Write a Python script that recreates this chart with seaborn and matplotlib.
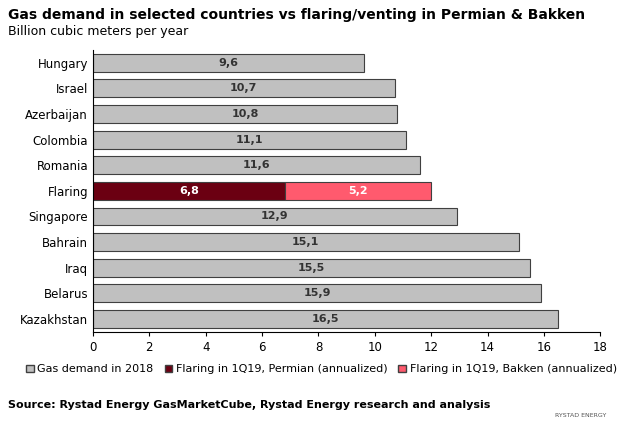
import matplotlib
matplotlib.use("Agg")
import matplotlib.pyplot as plt
import seaborn as sns
import pandas as pd
import numpy as np
from matplotlib.patches import Patch

categories = ["Hungary","Israel","Azerbaijan","Colombia","Romania","Flaring","Singapore","Bahrain","Iraq","Belarus","Kazakhstan"]
demand = [9.6,10.7,10.8,11.1,11.6,np.nan,12.9,15.1,15.5,15.9,16.5]
permian = 6.8
bakken = 5.2

plt.rcParams["font.family"] = "DejaVu Sans"
fig = plt.figure(figsize=(6.24,4.26), dpi=100)
ax = fig.add_axes([0.149,0.221,0.813,0.662])
df = pd.DataFrame({"cat":categories,"val":demand})
sns.barplot(data=df, x="val", y="cat", color="#c0c0c0", edgecolor="#404040", linewidth=0.8, width=0.7, ax=ax, saturation=1)
fi = categories.index("Flaring")
ax.barh(fi, permian, height=0.7, color="#6b0012", edgecolor="#404040", linewidth=0.8)
ax.barh(fi, bakken, left=permian, height=0.7, color="#ff5a6e", edgecolor="#404040", linewidth=0.8)
fmt = lambda v: f"{v:.1f}".replace(".",",")
for i,v in enumerate(demand):
    if not np.isnan(v):
        ax.text(v/2, i, fmt(v), ha="center", va="center", fontsize=8, fontweight="bold", color="#333333")
ax.text(permian/2, fi, fmt(permian), ha="center", va="center", fontsize=8, fontweight="bold", color="white")
ax.text(permian+bakken/2, fi, fmt(bakken), ha="center", va="center", fontsize=8, fontweight="bold", color="white")
ax.set_xlim(0,18)
ax.set_ylim(len(categories)-0.5, -0.5)
ax.set_xticks(range(0,19,2))
ax.set_xlabel(""); ax.set_ylabel("")
ax.tick_params(labelsize=8.5, length=3)
ax.tick_params(axis="y", length=0)
for s in ["top","right"]:
    ax.spines[s].set_visible(False)
handles = [Patch(facecolor="#c0c0c0", edgecolor="#404040", label="Gas demand in 2018"),
           Patch(facecolor="#6b0012", edgecolor="#404040", label="Flaring in 1Q19, Permian (annualized)"),
           Patch(facecolor="#ff5a6e", edgecolor="#404040", label="Flaring in 1Q19, Bakken (annualized)")]
fig.legend(handles=handles, loc="center", bbox_to_anchor=(0.515, 0.133), ncol=3, frameon=False, fontsize=8,
           handlelength=0.7, handleheight=0.7, columnspacing=1.0, handletextpad=0.3)
fig.text(0.013, 0.965, "Gas demand in selected countries vs flaring/venting in Permian & Bakken", fontsize=10, fontweight="bold", va="center")
fig.text(0.013, 0.927, "Billion cubic meters per year", fontsize=9, va="center")
fig.text(0.013, 0.05, "Source: Rystad Energy GasMarketCube, Rystad Energy research and analysis", fontsize=8, fontweight="bold", va="center")
fig.text(0.93, 0.02, "RYSTAD ENERGY", fontsize=4.5, ha="center", color="#555555")
fig.savefig("out.png", dpi=100)
